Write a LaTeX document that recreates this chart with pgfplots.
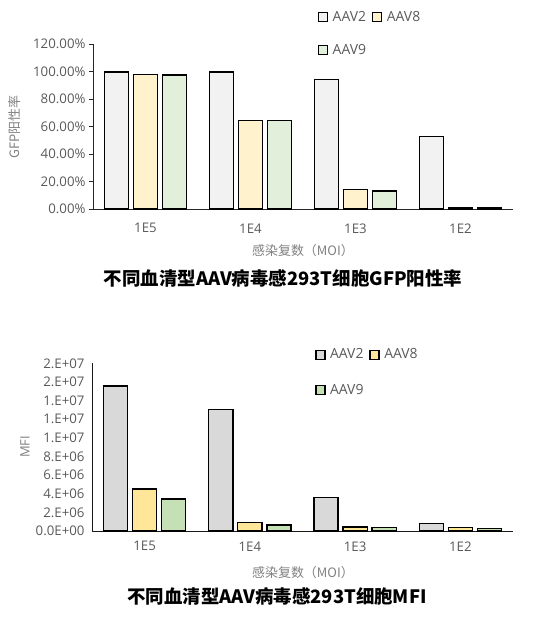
\documentclass[border=0pt]{standalone}
\usepackage{pgfplots}
\pgfplotsset{compat=1.18}
\usepackage{fontspec}
\setmainfont{Open Sans}
\newfontfamily\cjk{Noto Sans CJK SC}
\definecolor{tick}{HTML}{595959}
\definecolor{ttl}{HTML}{808080}
\definecolor{aaa}{HTML}{F2F2F2}
\definecolor{aab}{HTML}{FFF2CC}
\definecolor{aac}{HTML}{E2EFDA}
\definecolor{mfa}{HTML}{D9D9D9}
\definecolor{mfb}{HTML}{FFE699}
\definecolor{mfc}{HTML}{C5E0B4}

\pgfplotsset{
  barchart/.style={
    scale only axis,
    xmin=-0.5, xmax=3.5,
    ymin=0,
    axis x line*=bottom,
    axis y line*=left,
    xtick={0,1,2,3},
    xticklabels={1E5,1E4,1E3,1E2},
    x tick style={draw=none},
    tick label style={font=\fontsize{13.3}{13.3}\selectfont, text=tick},
    xticklabel style={yshift=-7bp},
    scaled y ticks=false,
    clip=false,
    legend columns=2,
    legend cell align=left,
    legend style={draw=none, fill=none, inner sep=0pt, row sep=17bp,
      font=\fontsize{14}{14}\selectfont, text=tick,
      /tikz/every odd column/.append style={column sep=2.5bp},
      /tikz/every even column/.append style={column sep=4bp}},
    legend image code/.code={\draw[#1,line width=1.3bp] (0bp,-4.5bp) rectangle (9bp,4.5bp);},
  },
  bars/.style={ybar, bar width=0.23, draw=black, line width=1.4bp},
}

\begin{document}
\begin{tikzpicture}[x=1bp,y=1bp]
\path (0,0) rectangle (535,621);

% GFP positive rate
\begin{axis}[barchart,
  at={(93bp,412bp)}, anchor=south west,
  width=420bp, height=165bp,
  ymax=120,
  ytick={0,20,40,60,80,100,120},
  yticklabels={0.00\%,20.00\%,40.00\%,60.00\%,80.00\%,100.00\%,120.00\%},
  y tick style={draw=black!85, line width=0.8bp},
  tick align=outside, major tick length=4bp,
  axis line style={draw=black!85, line width=0.9bp},
  legend style={at={(0.535,1.211)}, anchor=north west},
]
\addplot[bars, bar shift=-0.276, fill=aaa] coordinates {(0,99.6) (1,99.5) (2,94.3) (3,52.6)};
\addplot[bars, bar shift=0, fill=aab] coordinates {(0,98.0) (1,64.2) (2,14.0) (3,0.8)};
\addplot[bars, bar shift=0.276, fill=aac] coordinates {(0,97.5) (1,64.2) (2,13.0) (3,0.8)};
\legend{AAV2,AAV8,AAV9}
\end{axis}
\node[rotate=90, text=ttl, font=\cjk\fontsize{13}{13}\selectfont] at (15,494) {GFP阳性率};
\node[text=ttl, font=\cjk\fontsize{13}{13}\selectfont] at (303,370) {感染复数（MOI）};
\node[font=\cjk\bfseries\fontsize{18.5}{18.5}\selectfont] at (283,343) {不同血清型AAV病毒感293T细胞GFP阳性率};

% MFI
\begin{axis}[barchart,
  at={(92bp,90bp)}, anchor=south west,
  width=421bp, height=167.7bp,
  ymax=18000000,
  ytick={0,2000000,4000000,6000000,8000000,10000000,12000000,14000000,16000000,18000000},
  yticklabels={0.0E+00,2.E+06,4.E+06,6.E+06,8.E+06,1.E+07,1.E+07,1.E+07,2.E+07,2.E+07},
  y tick style={draw=none},
  yticklabel style={xshift=-4bp},
  axis line style={draw=black!90, line width=0.8bp},
  legend style={at={(0.53,1.099)}, anchor=north west, row sep=20bp},
]
\addplot[bars, bar shift=-0.276, fill=mfa] coordinates {(0,15560000) (1,13060000) (2,3610000) (3,790000)};
\addplot[bars, bar shift=0, fill=mfb] coordinates {(0,4500000) (1,930000) (2,430000) (3,360000)};
\addplot[bars, bar shift=0.276, fill=mfc] coordinates {(0,3430000) (1,640000) (2,390000) (3,290000)};
\legend{AAV2,AAV8,AAV9}
\end{axis}
\node[rotate=90, text=ttl, font=\fontsize{13}{13}\selectfont] at (25,174) {MFI};
\node[text=ttl, font=\cjk\fontsize{13}{13}\selectfont] at (303,48.5) {感染复数（MOI）};
\node[font=\cjk\bfseries\fontsize{18.5}{18.5}\selectfont] at (277,24.3) {不同血清型AAV病毒感293T细胞MFI};
\end{tikzpicture}
\end{document}
